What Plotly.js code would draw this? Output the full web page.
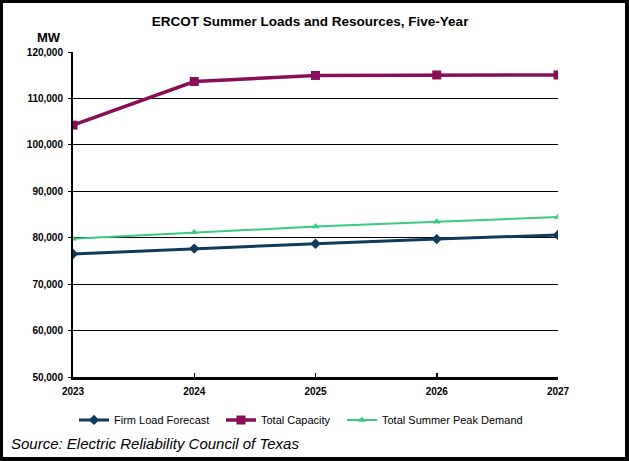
<!DOCTYPE html>
<html>
<head>
<meta charset="utf-8">
<script src="https://cdn.plot.ly/plotly-3.0.1.min.js"></script>
<style>
  html, body { margin: 0; padding: 0; background: #fff; }
  #wrap { position: absolute; left: 0; top: 0; width: 629px; height: 461px; box-sizing: border-box;
          border-left: 3px solid #000; border-top: 3px solid #000; border-right: 4px solid #000; border-bottom: 4px solid #000; }
  #chart { position: absolute; left: -3px; top: -3px; width: 629px; height: 461px; }
</style>
</head>
<body>
<div id="wrap"><div id="chart"></div></div>
<script>
const years = [2023, 2024, 2025, 2026, 2027];
const firmLoadForecast = [76500, 77650, 78700, 79700, 80600];
const totalCapacity = [104250, 113650, 114950, 115050, 115050];
const totalSummerPeakDemand = [79800, 81150, 82400, 83450, 84450];
const yTicks = [50000, 60000, 70000, 80000, 90000, 100000, 110000, 120000];
const yTickText = yTicks.map(v => v.toLocaleString('en-US'));

const traces = [
  { x: years, y: firmLoadForecast, name: 'Firm Load Forecast', mode: 'lines+markers', legend: 'legend',
    line: { color: '#0E3A5E', width: 3 }, marker: { symbol: 'diamond', size: 8, color: '#0E3A5E' } },
  { x: years, y: totalCapacity, name: 'Total Capacity', mode: 'lines+markers', legend: 'legend2',
    line: { color: '#870F57', width: 3.5 }, marker: { symbol: 'square', size: 9, color: '#870F57' } },
  { x: years, y: totalSummerPeakDemand, name: 'Total Summer Peak Demand', mode: 'lines+markers', legend: 'legend3',
    line: { color: '#3ACB80', width: 2 }, marker: { symbol: 'triangle-up', size: 7, color: '#3ACB80' } }
];

const legendBase = { orientation: 'h', xanchor: 'left', y: -0.132, yanchor: 'middle', font: { size: 11 }, bgcolor: 'rgba(0,0,0,0)' };
const pw = 485;
const layout = {
  width: 629, height: 461,
  margin: { l: 73, r: 71, t: 52, b: 84 },
  paper_bgcolor: 'rgba(0,0,0,0)', plot_bgcolor: '#fff',
  font: { family: 'Arial, "Liberation Sans", sans-serif', color: '#000' },
  title: { text: '<b>ERCOT Summer Loads and Resources, Five-Year</b>', x: 0.493, xanchor: 'center', y: 0.953, yanchor: 'middle',
           font: { family: '"Liberation Sans Narrow", Arial, sans-serif', size: 13.5, color: '#000' } },
  xaxis: { range: [2023, 2027], tickvals: years, ticktext: years.map(y => '<b>' + y + '</b>'), showgrid: false, zeroline: false,
           showline: true, linecolor: '#000', linewidth: 2.5, ticks: 'inside', ticklen: 4, tickcolor: '#000', tickwidth: 1.5,
           ticklabelstandoff: 3, tickfont: { size: 10 }, fixedrange: true },
  yaxis: { range: [50000, 120000], tickvals: yTicks, ticktext: yTickText.map(t => '<b>' + t + '</b>'), showgrid: true, gridcolor: '#000', gridwidth: 1,
           zeroline: false, showline: true, linecolor: '#000', linewidth: 2, ticks: 'outside', ticklen: 3, tickcolor: '#000',
           ticklabelstandoff: 3, tickfont: { size: 10 }, fixedrange: true },
  showlegend: true,
  legend: Object.assign({}, legendBase, { x: (74 - 73) / pw }),
  legend2: Object.assign({}, legendBase, { x: (221 - 73) / pw }),
  legend3: Object.assign({}, legendBase, { x: (342 - 73) / pw }),
  annotations: [
    { text: '<b>MW</b>', xref: 'paper', yref: 'paper', x: -0.05, y: 1.045, xanchor: 'center', yanchor: 'middle', showarrow: false, font: { size: 13 } },
    { text: '<i>Source: Electric Reliability Council of Texas</i>', xref: 'paper', yref: 'paper', x: -0.131, y: -0.205, xanchor: 'left', yanchor: 'middle', showarrow: false, font: { size: 15 } }
  ]
};

Plotly.newPlot('chart', traces, layout, { displayModeBar: false, staticPlot: true });
</script>
</body>
</html>
